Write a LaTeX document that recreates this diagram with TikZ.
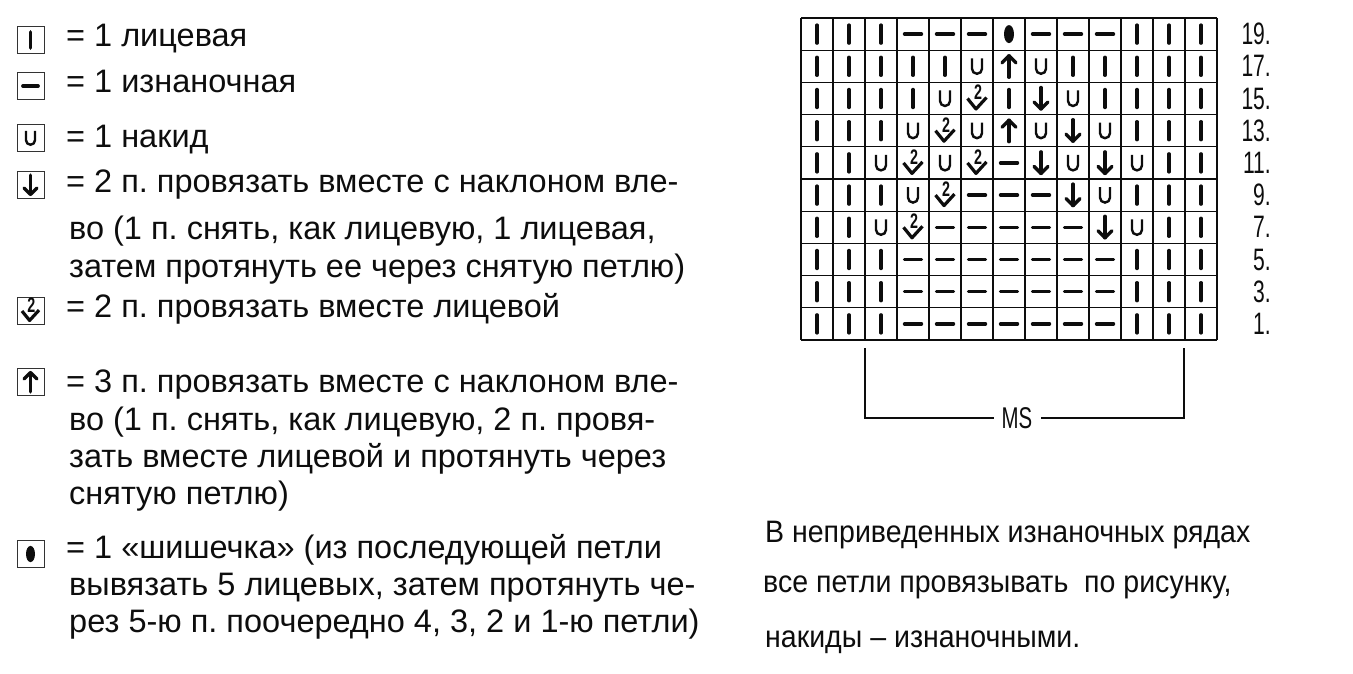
\documentclass[tikz,border=0pt]{standalone}
\usepackage{fontspec}
\setmainfont{Liberation Sans}
\newfontfamily\narrowfont{Liberation Sans}[FakeStretch=0.92, Ligatures=TeX]
\newfontfamily\chartfont{Liberation Sans}[FakeStretch=0.68]
\tikzset{
    sym/.style={line width=3.4pt, line cap=round, line join=round},
    knit/.pic={\draw[sym] (0,-9) -- (0,9);},
    purl/.pic={\draw[sym] (-8.5,0) -- (8.5,0);},
    yo/.pic={\draw[line width=2.4pt] (-5,-8) -- (-5,2.5) arc[start angle=180, end angle=0, radius=5] -- (5,-8);},
    ssk/.pic={\draw[sym] (0,-11) -- (0,10.5); \draw[sym] (-7,3.5) -- (0,10.5) -- (7,3.5);},
    sktpo/.pic={\draw[sym] (0,11) -- (0,-10.5); \draw[sym] (-7,-3.5) -- (0,-10.5) -- (7,-3.5);},
    ktog/.pic={\draw[line width=3.2pt, line join=round] (-9.5,0) -- (-1,10.5) -- (9.5,-1);
        \node[inner sep=0, font=\fontsize{21}{21}\bfseries\chartfont] at (1,-6) {2};},
    bobble/.pic={\fill (0,0) ellipse[x radius=5, y radius=9];},
    gridline/.style={line width=1.1pt},
    legbox/.style={draw, line width=1pt, black!80, minimum size=27pt, inner sep=0},
    legtext/.style={anchor=base west, inner sep=0, font=\fontsize{32.5}{37}\selectfont},
    notetext/.style={anchor=base west, inner sep=0, font=\fontsize{31}{36}\narrowfont},
    rowlab/.style={anchor=east, inner sep=0, font=\fontsize{31}{31}\chartfont},
}
\frenchspacing
\begin{document}
\begin{tikzpicture}[x=1pt, y=-1pt, black!95]
    \useasboundingbox (0,0) rectangle (1353,674);

    % chart grid
    \foreach \c in {0,...,13}
    {
        \draw[gridline] ({801+32*\c},18) -- ({801+32*\c},340);
    }
    \foreach \r in {0,...,10}
    {
        \draw[gridline] (801,{18+32.2*\r}) -- (1217,{18+32.2*\r});
    }

    % chart symbols, top row first
    \foreach \row [count=\r] in {
        {knit,knit,knit,purl,purl,purl,bobble,purl,purl,purl,knit,knit,knit},
        {knit,knit,knit,knit,knit,yo,sktpo,yo,knit,knit,knit,knit,knit},
        {knit,knit,knit,knit,yo,ktog,knit,ssk,yo,knit,knit,knit,knit},
        {knit,knit,knit,yo,ktog,yo,sktpo,yo,ssk,yo,knit,knit,knit},
        {knit,knit,yo,ktog,yo,ktog,purl,ssk,yo,ssk,yo,knit,knit},
        {knit,knit,knit,yo,ktog,purl,purl,purl,ssk,yo,knit,knit,knit},
        {knit,knit,yo,ktog,purl,purl,purl,purl,purl,ssk,yo,knit,knit},
        {knit,knit,knit,purl,purl,purl,purl,purl,purl,purl,knit,knit,knit},
        {knit,knit,knit,purl,purl,purl,purl,purl,purl,purl,knit,knit,knit},
        {knit,knit,knit,purl,purl,purl,purl,purl,purl,purl,knit,knit,knit}}
    {
        \foreach \s [count=\c] in \row
        {
            \pic at ({801+32*(\c-0.5)},{18+32.2*(\r-0.5)}) {\s};
        }
    }

    % row numbers
    \foreach \n [count=\r] in {19,17,15,13,11,9,7,5,3,1}
    {
        \node[rowlab] (row\n) at (1271,{18+32.2*(\r-0.5)}) {\n.};
    }

    % pattern repeat
    \node[inner sep=8pt, font=\fontsize{30}{30}\chartfont] (ms) at (1017,418) {MS};
    \coordinate (msl) at (865,348);
    \coordinate (msr) at (1184,348);
    \draw[line width=1.1pt] (msl) |- (ms.west);
    \draw[line width=1.1pt] (msr) |- (ms.east);

    % legend
    \node[legbox] (lknit) at (30.5,40) {};
    \pic[scale=0.9] at (lknit) {knit};
    \node[legtext] (tknit) at (66,47) {= 1 лицевая};

    \node[legbox] (lpurl) at (30.5,86) {};
    \pic[scale=0.9] at (lpurl) {purl};
    \node[legtext] (tpurl) at (66,93) {= 1 изнаночная};

    \node[legbox] (lyo) at (30.5,138) {};
    \pic[scale=0.9] at (lyo) {yo};
    \node[legtext] (tyo) at (66,148) {= 1 накид};

    \node[legbox] (lssk) at (30.5,185) {};
    \pic[scale=0.9] at (lssk) {ssk};
    \node[legtext] (tssk) at (66,193) {= 2 п. провязать вместе с наклоном вле-};
    \node[legtext] (tssk2) at (69,239) {во (1 п. снять, как лицевую, 1 лицевая,};
    \node[legtext] (tssk3) at (69,277) {затем протянуть ее через снятую петлю)};

    \node[legbox] (lktog) at (30.5,311) {};
    \pic[scale=0.9] at (lktog) {ktog};
    \node[legtext] (tktog) at (66,317) {= 2 п. провязать вместе лицевой};

    \node[legbox] (lsktpo) at (30.5,382) {};
    \pic[scale=0.9] at (lsktpo) {sktpo};
    \node[legtext] (tsktpo) at (66,392) {= 3 п. провязать вместе с наклоном вле-};
    \node[legtext] (tsktpo2) at (69,430) {во (1 п. снять, как лицевую, 2 п. провя-};
    \node[legtext] (tsktpo3) at (69,467) {зать вместе лицевой и протянуть через};
    \node[legtext] (tsktpo4) at (69,504) {снятую петлю)};

    \node[legbox] (lbobble) at (30.5,554) {};
    \pic[scale=0.9] at (lbobble) {bobble};
    \node[legtext] (tbobble) at (66,558) {= 1 «шишечка» (из последующей петли};
    \node[legtext] (tbobble2) at (69,595) {вывязать 5 лицевых, затем протянуть че-};
    \node[legtext] (tbobble3) at (69,632) {рез 5-ю п. поочередно 4, 3, 2 и 1-ю петли)};

    % note
    \node[notetext] (note1) at (765,542) {В неприведенных изнаночных рядах};
    \node[notetext] (note2) at (763,592) {все петли провязывать \ по рисунку,};
    \node[notetext] (note3) at (765,647) {накиды – изнаночными.};
\end{tikzpicture}
\end{document}
